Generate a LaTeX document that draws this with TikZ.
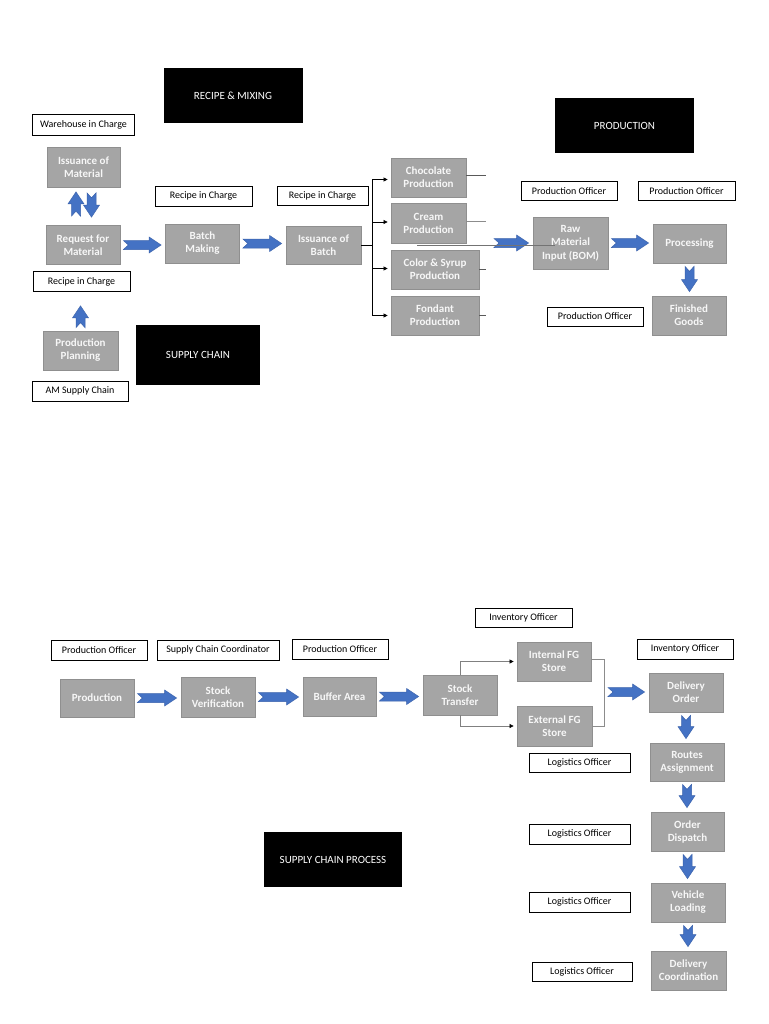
\documentclass[tikz,border=0pt]{standalone}
\usepackage{fontspec}
\setmainfont{Carlito}
\usetikzlibrary{arrows.meta,calc}

\definecolor{boxgray}{HTML}{A5A5A5}
\definecolor{boxedge}{HTML}{8F8F8F}
\definecolor{arrowblue}{HTML}{4472C4}
\definecolor{arrowedge}{HTML}{3A62AC}

\tikzset{
  stage/.style={draw=boxedge, fill=boxgray, line width=0.8pt, text=white!94!gray,
    font=\bfseries\fontsize{11}{13}\selectfont, align=center, inner sep=1pt},
  role/.style={draw=black, fill=white, line width=0.8pt,
    font=\fontsize{10}{12}\selectfont, inner sep=1pt},
  heading/.style={fill=black, text=white, font=\fontsize{11}{13}\selectfont, inner sep=1pt},
  branch/.style={line width=0.6pt, -{Triangle[length=4pt,width=4pt,color=black]}},
  stub/.style={draw=black!65, line width=0.6pt},
  harr/.style={draw=arrowedge, fill=arrowblue, line width=0.5pt, to path={
    let \p1=(\tikztostart), \p2=(\tikztotarget) in
    (\x1+3pt,\y1+4.5pt) -- (\x2-16pt,\y1+4.5pt) -- (\x2-16pt,\y1+8pt) -- (\x2-4pt,\y1)
    -- (\x2-16pt,\y1-8pt) -- (\x2-16pt,\y1-4.5pt) -- (\x1+3pt,\y1-4.5pt) -- (\x1+8pt,\y1) -- cycle}},
  darr/.style={draw=arrowedge, fill=arrowblue, line width=0.5pt, to path={
    let \p1=(\tikztostart), \p2=(\tikztotarget) in
    (\x1-4.5pt,\y1-3pt) -- (\x1-4.5pt,\y2+16pt) -- (\x1-8pt,\y2+16pt) -- (\x1,\y2+4pt)
    -- (\x1+8pt,\y2+16pt) -- (\x1+4.5pt,\y2+16pt) -- (\x1+4.5pt,\y1-3pt) -- (\x1,\y1-8pt) -- cycle}},
  uarr/.style={draw=arrowedge, fill=arrowblue, line width=0.5pt, to path={
    let \p1=(\tikztostart), \p2=(\tikztotarget) in
    (\x1-4.5pt,\y1+3pt) -- (\x1-4.5pt,\y2-16pt) -- (\x1-8pt,\y2-16pt) -- (\x1,\y2-4pt)
    -- (\x1+8pt,\y2-16pt) -- (\x1+4.5pt,\y2-16pt) -- (\x1+4.5pt,\y1+3pt) -- (\x1,\y1+8pt) -- cycle}},
}

\begin{document}
\begin{tikzpicture}[x=1pt,y=-1pt]
\fill[white] (0,0) rectangle (768,1024);
\useasboundingbox (0,0) rectangle (768,1024);

\node[heading, minimum width=139, minimum height=55] (mixhead) at (233,95.5) {RECIPE \& MIXING};
\node[heading, minimum width=124, minimum height=60] (chainhead) at (198,355) {SUPPLY CHAIN};
\node[heading, minimum width=139, minimum height=55] (prodhead) at (624.5,125.5) {PRODUCTION};
\node[heading, minimum width=138, minimum height=55] (processhead) at (333,859.5) {SUPPLY CHAIN PROCESS};

\node[role, minimum width=102, minimum height=21] (whcharge) at (83.5,124.5) {Warehouse in Charge};
\node[role, minimum width=97, minimum height=20] (rcbatch) at (203.5,196) {Recipe in Charge};
\node[role, minimum width=91, minimum height=19] (rcissue) at (322.5,196) {Recipe in Charge};
\node[role, minimum width=97, minimum height=20] (rcplan) at (81.5,281.5) {Recipe in Charge};
\node[role, minimum width=96, minimum height=20] (amchain) at (80,391) {AM Supply Chain};
\node[role, minimum width=96, minimum height=19] (porawin) at (569,191) {Production Officer};
\node[role, minimum width=97, minimum height=19] (poproc) at (686.5,191) {Production Officer};
\node[role, minimum width=96, minimum height=19] (pofin) at (595,316.5) {Production Officer};

\node[stage, minimum width=73, minimum height=40] (issmat) at (83.5,167.5) {Issuance of\\Material};
\node[stage, minimum width=74, minimum height=39] (reqmat) at (83,245) {Request for\\Material};
\node[stage, minimum width=74, minimum height=39] (batchmk) at (202.5,243.5) {Batch\\Making};
\node[stage, minimum width=75, minimum height=38] (issbatch) at (323.5,245) {Issuance of\\Batch};
\node[stage, minimum width=75, minimum height=39] (plan) at (80.5,350.5) {Production\\Planning};
\node[stage, minimum width=75, minimum height=39] (choc) at (428.5,177.5) {Chocolate\\Production};
\node[stage, minimum width=75, minimum height=40] (cream) at (428.5,223) {Cream\\Production};
\node[stage, minimum width=88, minimum height=39] (syrup) at (435,269.5) {Color \& Syrup\\Production};
\node[stage, minimum width=88, minimum height=39] (fondant) at (435,315.5) {Fondant\\Production};
\node[stage, minimum width=75, minimum height=52, font=\bfseries\fontsize{11}{13.5}\selectfont] (raw) at (570.5,243) {Raw\\Material\\Input (BOM)};
\node[stage, minimum width=73, minimum height=39] (proc) at (689.5,243.5) {Processing};
\node[stage, minimum width=74, minimum height=39] (fin) at (689,315.5) {Finished\\Goods};

\draw[uarr] ($(reqmat.north)+(-7,-6)$) to ($(issmat.south)+(-7,0)$);
\draw[darr] ($(issmat.south)+(8,2)$) to ($(reqmat.north)+(8,-4)$);
\draw[uarr] (plan.north) to ($(rcplan.south)+(0,10)$);
\draw[harr] (reqmat.east) to (batchmk.west);
\draw[harr] (batchmk.east) to (issbatch.west);

\coordinate (split) at (372,245);
\draw[line width=0.6pt] (issbatch.east) -- (split);
\draw[branch] (split) |- ($(choc.west)+(-3,2)$);
\draw[branch] (split) |- ($(cream.west)+(-3,-1)$);
\draw[branch] (split) |- ($(syrup.west)+(-3,-1)$);
\draw[branch] (split) |- ($(fondant.west)+(-3,0)$);

\coordinate (stubend) at (486,0);
\draw[stub] ($(choc.east)+(0,-2)$) -- ($(choc.east -| stubend)+(0,-2)$);
\draw[stub, draw=black!45] ($(cream.east)+(0,-2)$) -- ($(cream.east -| stubend)+(0,-2)$);
\draw[stub] (syrup.east) -- (syrup.east -| stubend);
\draw[stub, line width=1pt] (fondant.east) -- (fondant.east -| stubend);

\coordinate (bomtail) at (491,243);
\draw[harr] (bomtail) to (raw.west);
\coordinate (stray) at (417,245);
\draw[draw=black!55, line width=0.6pt] (stray) -- ($(raw.west)+(22,2)$);
\draw[harr] (raw.east) to (proc.west);
\draw[darr] (proc.south) to (fin.north);

\node[role, minimum width=96, minimum height=20] (poprod) at (99,650) {Production Officer};
\node[role, minimum width=122, minimum height=20] (sccoord) at (218,650) {Supply Chain Coordinator};
\node[role, minimum width=96, minimum height=20] (pobuffer) at (340,649) {Production Officer};
\node[role, minimum width=97, minimum height=19] (invstore) at (523.5,617.5) {Inventory Officer};
\node[role, minimum width=96, minimum height=20] (invorder) at (685,649) {Inventory Officer};
\node[role, minimum width=101, minimum height=19] (loroute) at (579.5,762.5) {Logistics Officer};
\node[role, minimum width=101, minimum height=20] (lodispatch) at (579.5,834) {Logistics Officer};
\node[role, minimum width=101, minimum height=20] (loload) at (579.5,902) {Logistics Officer};
\node[role, minimum width=100, minimum height=19] (locoord) at (582,971.5) {Logistics Officer};

\node[stage, minimum width=74, minimum height=38] (prod) at (97,698) {Production};
\node[stage, minimum width=74, minimum height=40] (stockv) at (218,697) {Stock\\Verification};
\node[stage, minimum width=73, minimum height=39] (buffer) at (339.5,696.5) {Buffer Area};
\node[stage, minimum width=74, minimum height=40] (transfer) at (460,695) {Stock\\Transfer};
\node[stage, minimum width=74, minimum height=39] (internal) at (554,661.5) {Internal FG\\Store};
\node[stage, minimum width=75, minimum height=40] (external) at (554.5,726) {External FG\\Store};
\node[stage, minimum width=74, minimum height=39] (delorder) at (686,692.5) {Delivery\\Order};
\node[stage, minimum width=74, minimum height=38] (routes) at (687,762) {Routes\\Assignment};
\node[stage, minimum width=73, minimum height=39] (dispatch) at (687.5,831.5) {Order\\Dispatch};
\node[stage, minimum width=74, minimum height=39] (vehicle) at (688,902.5) {Vehicle\\Loading};
\node[stage, minimum width=75, minimum height=39] (delcoord) at (688.5,970.5) {Delivery\\Coordination};

\draw[harr] (prod.east) to (stockv.west);
\draw[harr] (stockv.east) to (buffer.west);
\draw[harr] (buffer.east) to (transfer.west);
\draw[branch, draw=black!50] (transfer.north) |- ($(internal.west)+(-3,0)$);
\draw[branch, draw=black!50] (transfer.south) |- ($(external.west)+(-3,0)$);
\coordinate (fgjoin) at (604,692);
\draw[draw=black!45, line width=0.6pt] ($(internal.east)+(0,-2)$) -| (fgjoin) |- (external.east);
\coordinate (fgtail) at (605,692);
\draw[harr] (fgtail) to (delorder.west);
\draw[darr] (delorder.south) to (routes.north);
\draw[darr] (routes.south) to (dispatch.north);
\draw[darr] (dispatch.south) to (vehicle.north);
\draw[darr] (vehicle.south) to (delcoord.north);
\end{tikzpicture}
\end{document}
